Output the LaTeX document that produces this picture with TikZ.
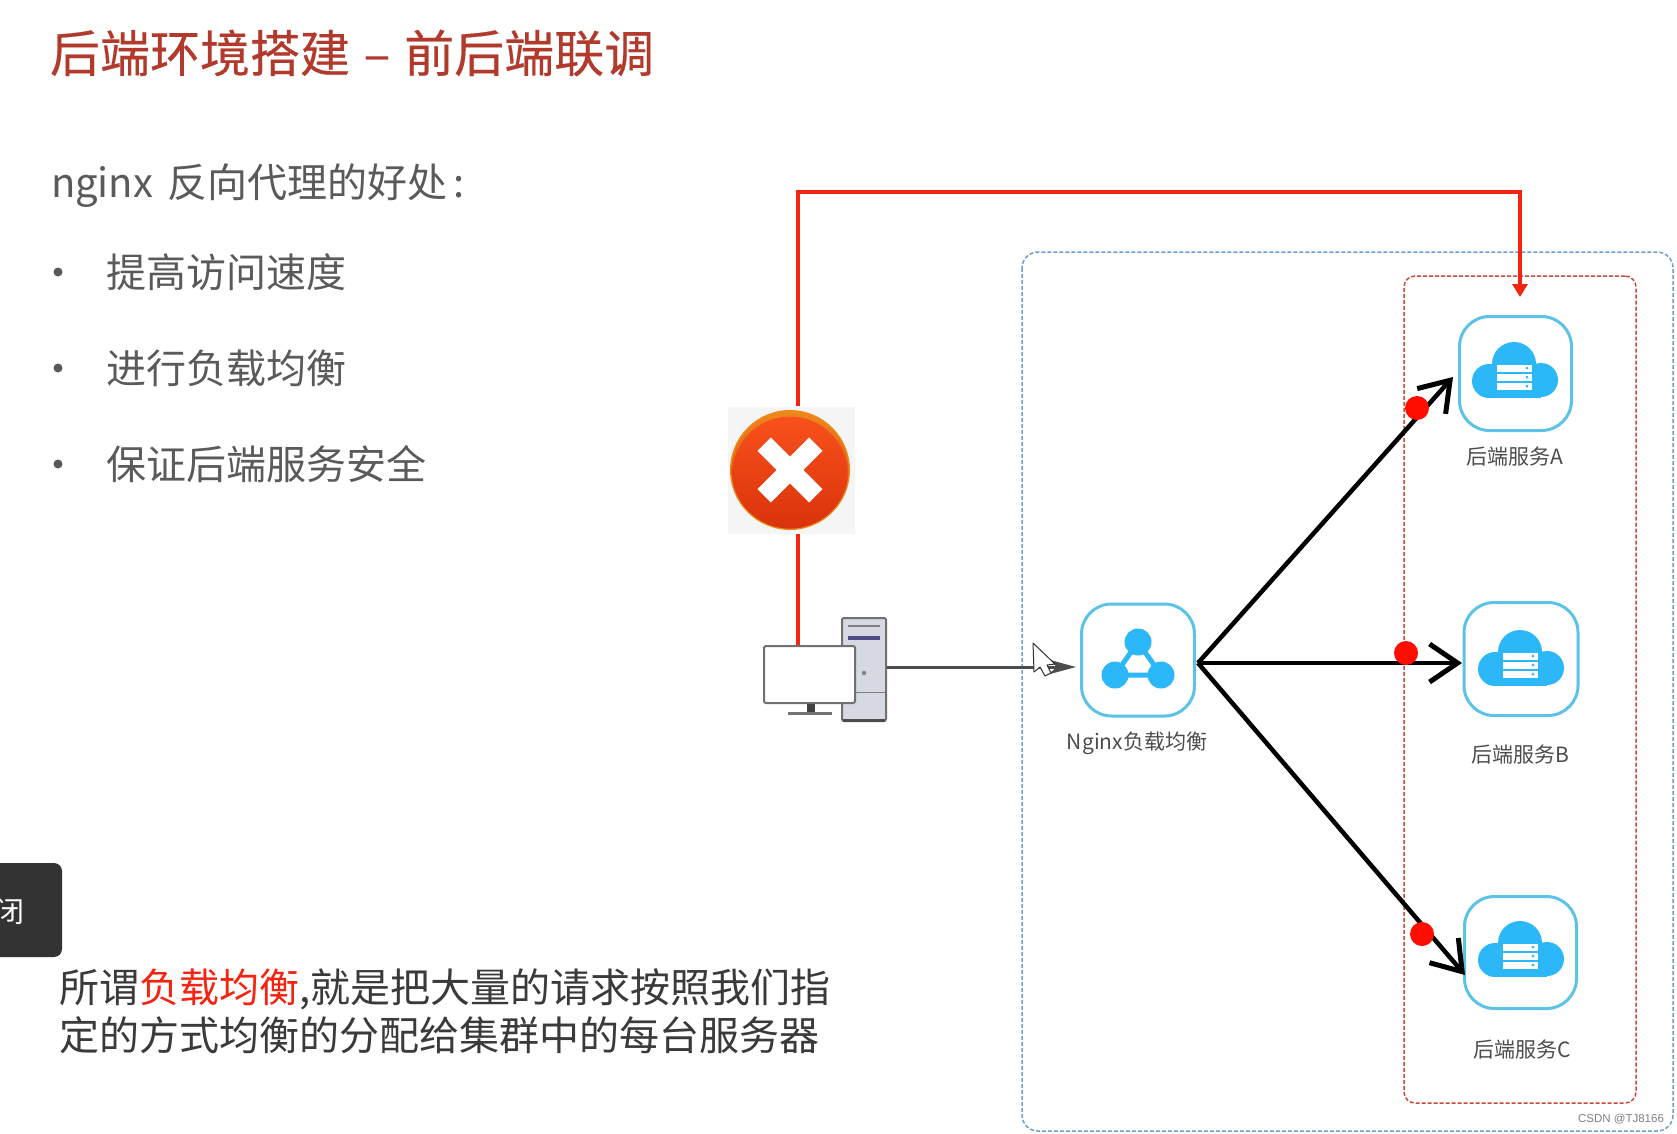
\documentclass[tikz,border=0pt]{standalone}
\usepackage{fontspec}
\setmainfont{Noto Sans CJK SC}
\newfontfamily\titlefont[FakeBold=0.35]{Noto Sans CJK SC}
\newfontfamily\wmfont{Liberation Sans}
\usetikzlibrary{arrows.meta,calc}
\definecolor{slidetitle}{HTML}{B23A2C}
\definecolor{slidetext}{HTML}{5A5A5A}
\definecolor{bodytext}{HTML}{3A3A3A}
\definecolor{hotred}{HTML}{F42410}
\definecolor{iconblue}{HTML}{5CC3E6}
\definecolor{cloudblue}{HTML}{2BB7F8}
\definecolor{dashblue}{HTML}{6F9FCB}
\definecolor{dashred}{HTML}{C84A3E}
\definecolor{towerfill}{HTML}{D6D9E1}
\definecolor{pcline}{HTML}{707070}
\definecolor{ringorange}{HTML}{EE8A1C}
\definecolor{errtop}{HTML}{F9511C}
\definecolor{errbot}{HTML}{D8320A}
\tikzset{
  txt/.style={inner sep=0pt,outer sep=0pt,anchor=west,text=slidetext},
  icontile/.style={draw=iconblue,line width=3pt,rounded corners=30pt,fill=white,inner sep=0pt},
  iconlabel/.style={inner sep=0pt,text=slidetext!85!black,font=\fontsize{21}{24}\selectfont},
  fanarrow/.style={line width=4.5pt,black,-{Straight Barb[length=28pt,width=38pt,line width=5pt]}},
  reddot/.style={circle,fill=red!90!orange,minimum size=24pt,inner sep=0pt},
  redline/.style={hotred,line width=3.4pt},
  cloudicon/.pic={
    \fill[cloudblue] (-1,-6) circle[radius=22];
    \fill[cloudblue] (-26,11) circle[radius=17];
    \fill[cloudblue] (26,10) circle[radius=17];
    \fill[cloudblue] (-26,-4) rectangle (26,28);
    \foreach \yy in {-5,4,13}{
      \fill[white] (-18,\yy) rectangle (17,\yy+6.5);
      \fill[cloudblue] (12,\yy+3.2) circle[radius=1.5];
    }
  }
}
\begin{document}
\begin{tikzpicture}[x=1pt,y=-1pt]
\useasboundingbox (0,0) rectangle (1677,1133);
\fill[white] (0,0) rectangle (1677,1133);

% slide text
\node[txt,text=slidetitle,font=\titlefont\fontsize{50}{55}\selectfont] (title) at (50,53) {后端环境搭建\hspace{2.5pt} – \hspace{2.5pt}前后端联调};
\node[txt,font=\fontsize{40}{46}\selectfont] (head) at (51,186) {nginx\hspace{5pt} 反向代理的好处\hspace{6pt}:};
\fill[slidetext] (58,272) circle[radius=4.5];
\fill[slidetext] (58,368) circle[radius=4.5];
\fill[slidetext] (58,464) circle[radius=4.5];
\node[txt,font=\fontsize{40}{46}\selectfont] (b1) at (106,272) {提高访问速度};
\node[txt,font=\fontsize{40}{46}\selectfont] (b2) at (106,368) {进行负载均衡};
\node[txt,font=\fontsize{40}{46}\selectfont] (b3) at (106,464) {保证后端服务安全};
\node[txt,text=bodytext,align=left,font=\fontsize{40}{48}\selectfont] (para) at (59,1011)
  {所谓\textcolor{hotred}{负载均衡},就是把大量的请求按照我们指\\定的方式均衡的分配给集群中的每台服务器};

% dark popup
\fill[black!80,rounded corners=8pt] (-20,863) rectangle (62,957);
\node[inner sep=0pt,text=white,font=\fontsize{29}{32}\selectfont] (closetxt) at (10,912) {闭};

% dashed boxes
\draw[dashblue,line width=1.5pt,dash pattern=on 4pt off 2pt,rounded corners=16pt] (1022,252) rectangle (1673,1131);
\node[draw=dashred,line width=1.5pt,dash pattern=on 4pt off 2pt,rounded corners=11pt,minimum width=232pt,minimum height=827pt,inner sep=0pt] (redbox) at (1520,689.5) {};

% computer
\node[draw=pcline,line width=2pt,fill=towerfill,rounded corners=2pt,minimum width=44pt,minimum height=103pt,inner sep=0pt] (tower) at (864,669.5) {};
\draw[black!70,line width=2.5pt] (843,720.5) -- (885,720.5);
\draw[gray,line width=2pt] (848,626) -- (880,626);
\draw[blue!30!black!70,line width=3.5pt] (848,638) -- (880,638);
\draw[gray,line width=1pt] (843,692) -- (885,692);
\fill[gray] (864,673) circle[radius=2.2];
\fill[black!75] (807,703) rectangle (815,712);
\fill[gray!90!black] (788,711.5) rectangle (832,714.5);
\node[draw=pcline,line width=2pt,fill=white,rounded corners=2pt,minimum width=91pt,minimum height=57pt,inner sep=0pt] (monitor) at (809.5,674.5) {};

% error icon
\node[fill=black!4,minimum size=127pt,inner sep=0pt] (errbg) at (791.5,470) {};
\coordinate (rx) at (798,192);
\coordinate (redtip) at (1520,297);
\draw[redline] (monitor.north -| rx) -- (errbg.south -| rx);
\draw[redline,-{Triangle[length=13pt,width=15pt]}] (errbg.north -| rx) -- (rx) -| (redtip);
\fill[ringorange] (790,470) circle[radius=60];
\begin{scope}
  \clip (790,470) circle[radius=58.5];
  \shade[top color=ringorange,bottom color=errbot] (730,410) rectangle (850,530);
  \shade[top color=errtop,bottom color=errbot] (790,474) circle[radius=57.5];
\end{scope}
\draw[white,line width=19pt] (764.2,444.2) -- (815.8,495.8);
\draw[white,line width=19pt] (815.8,444.2) -- (764.2,495.8);

% tiles
\node[icontile,minimum width=113pt,minimum height=112pt] (lb) at (1138,660) {};
\draw[cloudblue,line width=5pt] (1138,642) -- (1115,675) -- (1161,675) -- cycle;
\fill[cloudblue] (1138,642) circle[radius=13.5];
\fill[cloudblue] (1115,675) circle[radius=13.5];
\fill[cloudblue] (1161,675) circle[radius=13.5];
\node[iconlabel] (lblb) at (1137,743) {Nginx负载均衡};

\node[icontile,minimum width=112pt,minimum height=114pt] (svca) at (1515.5,373.5) {};
\pic at (1515,370) {cloudicon};
\node[iconlabel] (lbla) at (1515,457) {后端服务A};

\node[icontile,minimum width=114pt,minimum height=113pt] (svcb) at (1521,659) {};
\pic at (1521,658) {cloudicon};
\node[iconlabel] (lblbb) at (1520,755) {后端服务B};

\node[icontile,minimum width=112pt,minimum height=112pt] (svcc) at (1520.5,952.5) {};
\pic at (1521,949) {cloudicon};
\node[iconlabel] (lblc) at (1522,1050) {后端服务C};

% connectors
\coordinate (fan) at (1198,663);
\coordinate (tipa) at (1453,377);
\coordinate (tipb) at (1462,663);
\coordinate (tipc) at (1465,975);
\coordinate (pcout) at (tower.east |- 0,667);
\coordinate (lbin) at (1076,667);
\draw[fanarrow] (fan) -- (tipa);
\draw[fanarrow] (fan) -- (tipb);
\draw[fanarrow] (fan) -- (tipc);
\draw[black!70,line width=3pt,-{Stealth[length=28pt,width=15pt]}] (pcout) -- (lbin);

% red dots
\node[reddot] (dota) at (1417,408) {};
\node[reddot] (dotb) at (1406,653) {};
\node[reddot] (dotc) at (1422,934) {};

% mouse cursor
\draw[black!80,fill=white,line width=1pt,line join=round] (1033,643) -- (1034,672) -- (1040,667) -- (1045,676) -- (1051,673) -- (1047,665) -- (1055,664) -- cycle;

% watermark
\node[inner sep=0pt,text=black!50,font=\wmfont\fontsize{11.5}{14}\selectfont] (wm) at (1621,1119) {CSDN @TJ8166};
\end{tikzpicture}
\end{document}
